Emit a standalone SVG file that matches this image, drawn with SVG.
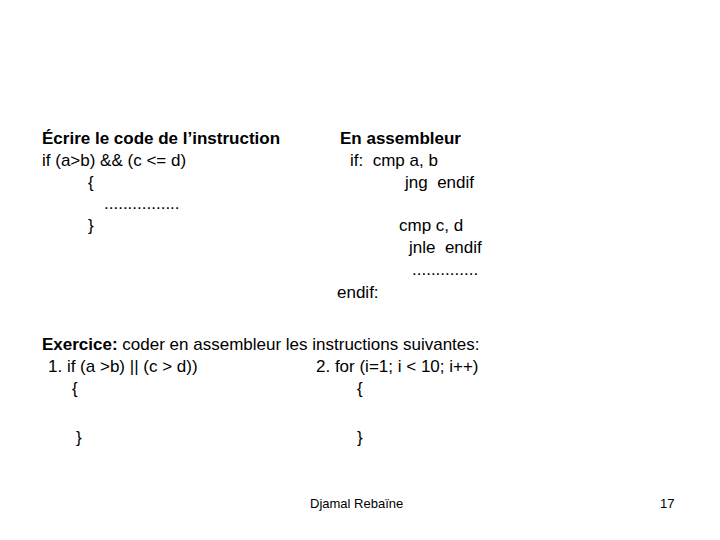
<svg xmlns="http://www.w3.org/2000/svg" width="720" height="540" viewBox="0 0 720 540">
<style>
text{font-family:"Liberation Sans",Arial,sans-serif;font-size:17px;fill:#000}
.b{font-weight:bold}
.s{font-size:13px}
</style>
<rect width="720" height="540" fill="#fff"/>
<g id="left">
<text x="42" y="144" class="b">Écrire le code de l’instruction</text>
<text x="42" y="166">if (a&gt;b) &amp;&amp; (c &lt;= d)</text>
<text x="88" y="188">{</text>
<text x="104" y="209">................</text>
<text x="88" y="231">}</text>
</g>
<g id="right">
<text x="340" y="144" class="b">En assembleur</text>
<text x="350" y="166" xml:space="preserve">if:  cmp a, b</text>
<text x="405" y="188" xml:space="preserve">jng  endif</text>
<text x="399" y="231">cmp c, d</text>
<text x="409" y="253" xml:space="preserve">jnle  endif</text>
<text x="412" y="275">..............</text>
<text x="337" y="298">endif:</text>
</g>
<g id="exercise">
<text x="42" y="350"><tspan class="b">Exercice:</tspan> coder en assembleur les instructions suivantes:</text>
<text x="48" y="372">1. if (a &gt;b) || (c &gt; d))</text>
<text x="316" y="372">2. for (i=1; i &lt; 10; i++)</text>
<text x="72" y="394">{</text>
<text x="357" y="394">{</text>
<text x="76" y="443">}</text>
<text x="357" y="443">}</text>
</g>
<g id="footer">
<text x="310" y="508" class="s">Djamal Rebaïne</text>
<text x="660" y="508" class="s">17</text>
</g>
</svg>
